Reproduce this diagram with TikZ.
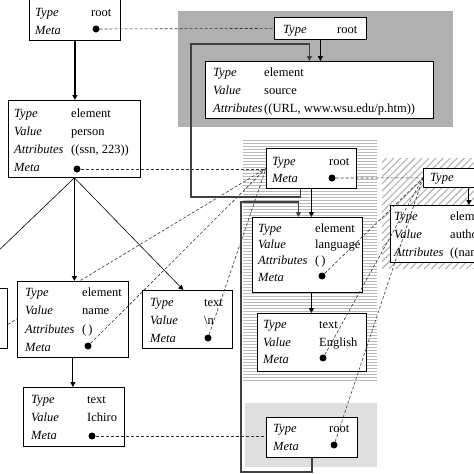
\documentclass[tikz,border=0pt]{standalone}
\usepackage{fontspec}
\setmainfont{Liberation Serif}
\usetikzlibrary{arrows.meta,patterns,patterns.meta}
\tikzset{
  box/.style={draw,fill=white,anchor=north west,inner sep=0pt,line width=0.8pt},
  lbl/.style={anchor=base west,inner sep=0pt,font=\fontsize{12.5}{14}\selectfont\itshape},
  val/.style={anchor=base west,inner sep=0pt,font=\fontsize{12.5}{14}\selectfont},
  mdot/.style={circle,fill=black,inner sep=0pt,minimum size=7pt},
  ptr/.style={dash pattern=on 3pt off 2pt,line width=0.6pt,color=kDash},
  arr/.style={-{Triangle[length=5pt,width=5pt]},line width=0.9pt},
  link/.style={-{Triangle[length=5pt,width=5pt]},line width=1.4pt,color=kLink},
}
\begin{document}
\begin{tikzpicture}[x=1pt,y=-1pt]
  % colors
  \definecolor{kGrey}{rgb}{0.69,0.69,0.69}
  \definecolor{kLink}{rgb}{0.25,0.25,0.25}
  \definecolor{kDash}{rgb}{0.2,0.2,0.2}
  \useasboundingbox (0,0) rectangle (474,474);
  % regions
  \fill[kGrey] (178,11) rectangle (453,127);
  \fill[pattern=horizontal lines,pattern color=gray!55] (243,138) rectangle (377,380);
  \fill[pattern={Lines[angle=45,distance=5pt,line width=1.1pt]},pattern color=gray!60] (382,158) rectangle (480,268);
  \fill[gray!25] (245,403) rectangle (377,467);
  % boxes
  \node[box,minimum width=91pt,minimum height=45pt] (rootA) at (29,-5) {};
  \node[box,minimum width=92pt,minimum height=22pt] (root2) at (274,17) {};
  \node[box,minimum width=228pt,minimum height=57pt] (source) at (205,61) {};
  \node[box,minimum width=132pt,minimum height=77pt] (person) at (8,100) {};
  \node[box,minimum width=90pt,minimum height=40pt] (root3) at (266,148) {};
  \node[box,minimum width=91pt,minimum height=19pt] (root5) at (423,168) {};
  \node[box,minimum width=180pt,minimum height=57pt] (author) at (390,205) {};
  \node[box,minimum width=110pt,minimum height=75pt] (language) at (252,217) {};
  \node[box,minimum width=17pt,minimum height=60pt] (lbox) at (-10,288) {};
  \draw[ptr] ([yshift=-6pt]lbox.east) -- (root3.west);
  \node[box,minimum width=111pt,minimum height=76pt] (name) at (17,281) {};
  \node[box,minimum width=90pt,minimum height=58pt] (textbox) at (142,290) {};
  \node[box,minimum width=109pt,minimum height=58pt] (english) at (257,313) {};
  \node[box,minimum width=101pt,minimum height=59pt] (ichiro) at (23,387) {};
  \node[box,minimum width=91pt,minimum height=40pt] (root4) at (266,417) {};
  % field names
  \foreach \x/\y/\t [count=\i] in {35/16/Type, 35/34/Meta, 283/33/Type,
      213/76/Type, 213/94/Value, 213/112/Attributes,
      14/117/Type, 14/135/Value, 14/153/Attributes, 14/171/Meta,
      272/165/Type, 272/182/Meta, 430/181/Type,
      394/220/Type, 394/238/Value, 394/256/Attributes,
      258/232/Type, 258/248/Value, 258/264/Attributes, 258/281/Meta,
      25/296/Type, 25/314/Value, 25/333/Attributes, 25/351/Meta,
      150/306/Type, 150/324/Value, 150/342/Meta,
      263/328/Type, 263/346/Value, 263/363/Meta,
      31/403/Type, 31/421/Value, 31/439/Meta,
      273/432/Type, 273/450/Meta}
    \node[lbl] (f\i) at (\x,\y) {\t};
  % field values
  \foreach \x/\y/\t [count=\i] in {91/16/root, 337/33/root,
      264/76/element, 264/94/source, 264/112/{((URL, www.wsu.edu/p.htm))},
      71/117/element, 71/135/person, 71/153/{((ssn, 223))},
      329/165/root, 450/220/element, 450/238/author, 450/256/{((name, Ichiro))},
      315/232/element, 315/248/language, 315/264/(\,),
      82/296/element, 82/314/name, 82/333/(\,),
      204/306/text, 204/324/\textbackslash n,
      319/328/text, 319/346/English,
      87/403/text, 87/421/Ichiro, 329/432/root}
    \node[val] (v\i) at (\x,\y) {\t};
  % meta pointers
  \node[mdot] (dA) at (96,29) {};
  \node[mdot] (dP) at (77,169) {};
  \node[mdot] (d3) at (332,178) {};
  \node[mdot] (dL) at (322,276) {};
  \node[mdot] (dN) at (88,346) {};
  \node[mdot] (dT) at (208,338) {};
  \node[mdot] (dE) at (323,358) {};
  \node[mdot] (dI) at (92,436) {};
  \node[mdot] (d4) at (334,445) {};
  \draw[ptr] (dA) -- (root2.west);
  \draw[ptr] (dP) -- (root3.west |- dP);
  \draw[ptr] (d3) -- (root5.west);
  \draw[ptr] (dI) -- (root4.west |- dI);
  \draw[ptr] (dN) -- (root3.west);
  \draw[ptr] (dT) -- (root3.west);
  \draw[ptr] (dL) -- (root5.west);
  \draw[ptr] (dE) -- (root5.west);
  \draw[ptr] (d4) -- (root5.west);
  % tree edges
  \coordinate (lbx) at (-5,254);
  \draw[link,color=black] (rootA.south) -- (rootA.south |- person.north);
  \draw[link,color=black] (person.south) -- (person.south |- name.north);
  \draw[arr] (name.south) -- (name.south |- ichiro.north);
  \draw[-{Triangle[length=5pt,width=5pt]},line width=0.6pt] (person.south) -- ([xshift=-4pt]textbox.north);
  \draw[line width=0.6pt] (person.south) -- (lbx);
  \draw[arr] (root2.south) -- (root2.south |- source.north);
  \draw[arr] (root3.south) -- (root3.south |- language.north);
  \draw[arr] (root5.south) -- (root5.south |- author.north);
  \draw[arr] (root3.south |- language.south) -- (root3.south |- english.north);
  % root links
  \coordinate (k1) at (191,197);
  \coordinate (k2) at (191,44);
  \coordinate (k3) at (241,472);
  \coordinate (k4) at (241,202);
  \draw[link] ([xshift=-11pt]root3.south) |- (k1) -- (k2) -| ([xshift=-10pt]source.north);
  \draw[link] (root4.south) |- (k3) -- (k4) -| ([xshift=-9pt]language.north);
\end{tikzpicture}
\end{document}
